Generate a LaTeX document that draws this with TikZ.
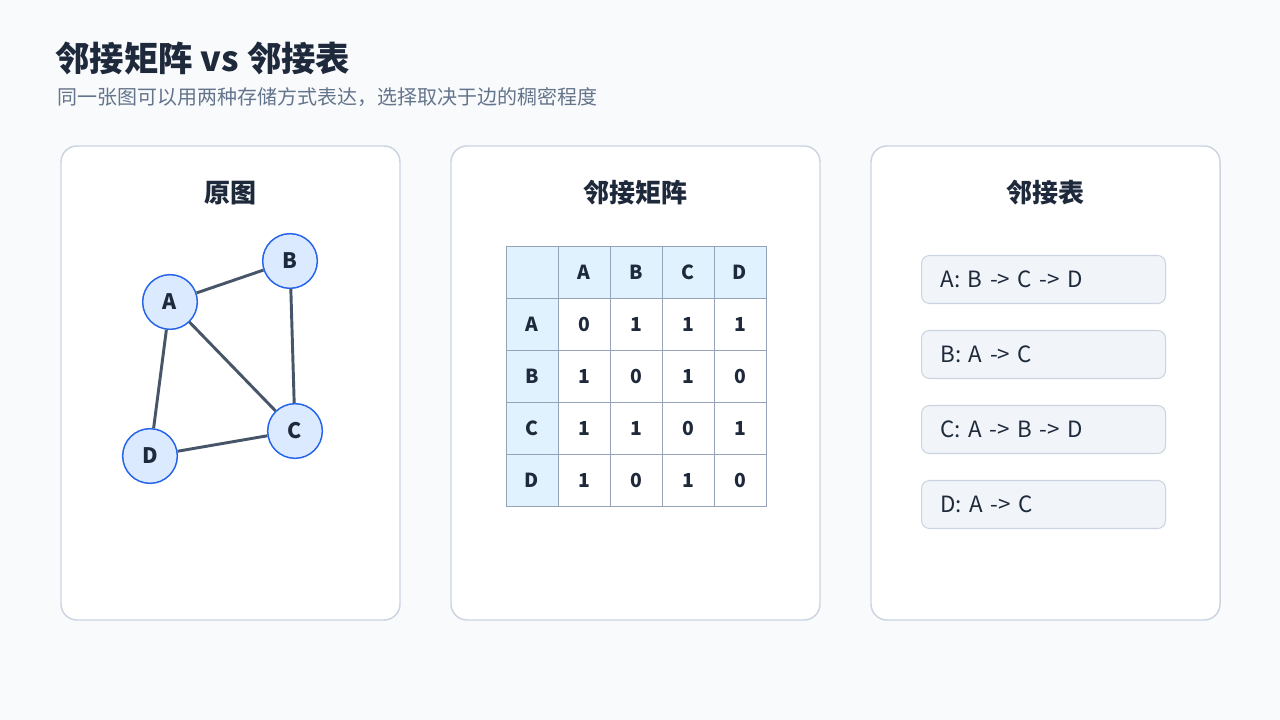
\documentclass[tikz,border=0pt]{standalone}
\usepackage{fontspec}
\setmainfont{Noto Sans CJK SC}
\usepackage{xcolor}
\usepackage{tikz}
\usetikzlibrary{positioning}
\definecolor{pagebg}{RGB}{248, 250, 252}
\definecolor{darkslate}{RGB}{30, 41, 59}
\definecolor{mutedgray}{RGB}{100, 116, 139}
\definecolor{panelline}{RGB}{203, 213, 225}
\definecolor{edgegray}{RGB}{71, 85, 105}
\definecolor{nodeblue}{RGB}{37, 99, 235}
\definecolor{nodefill}{RGB}{219, 234, 254}
\definecolor{headfill}{RGB}{224, 242, 254}
\definecolor{gridline}{RGB}{148, 163, 184}
\definecolor{listfill}{RGB}{241, 245, 249}

\begin{document}
\begin{tikzpicture}[
    x=0.75pt, y=-0.75pt,
    panel/.style={draw=panelline, fill=white, line width=1.1pt, rounded corners=12pt},
    paneltitle/.style={font=\fontsize{19.5}{22}\selectfont\bfseries, text=darkslate},
    vertex/.style={circle, draw=nodeblue, fill=nodefill, line width=1.1pt, minimum size=41pt, inner sep=0pt, font=\fontsize{16}{18}\selectfont\bfseries, text=darkslate},
    edge/.style={draw=edgegray, line width=2.2pt},
    cell/.style={rectangle, draw=gridline, line width=0.6pt, minimum size=39pt, inner sep=0pt, font=\fontsize{14.5}{16}\selectfont\bfseries, text=darkslate},
    headcell/.style={cell, fill=headfill},
    listbox/.style={rectangle, draw=panelline, fill=listfill, line width=0.8pt, rounded corners=6pt, anchor=west, text width=154.5pt, inner xsep=14.25pt, minimum height=36pt, align=left, font=\fontsize{16.8}{18}\selectfont, text=darkslate}
]
    % Background
    \fill[pagebg] (0,0) rectangle (1280,720);
    \useasboundingbox (0,0) rectangle (1280,720);

    % Heading
    \node[anchor=base west, inner sep=0pt, font=\fontsize{25.8}{30}\selectfont\bfseries, text=darkslate] (title) at (55,72) {邻接矩阵 vs 邻接表};
    \node[anchor=base west, inner sep=0pt, font=\fontsize{15}{17}\selectfont, text=mutedgray] (subtitle) at (57,105) {同一张图可以用两种存储方式表达，选择取决于边的稠密程度};

    % Panels
    \draw[panel] (61,146) rectangle (400,620);
    \draw[panel] (451,146) rectangle (820,620);
    \draw[panel] (871,146) rectangle (1220,620);
    \node[paneltitle] (graphtitle) at (230,193) {原图};
    \node[paneltitle] (matrixtitle) at (635,193) {邻接矩阵};
    \node[paneltitle] (listtitle) at (1045,193) {邻接表};

    % Graph
    \node[vertex] (va) at (170,302) {A};
    \node[vertex] (vb) at (290,261) {B};
    \node[vertex] (vc) at (295,431) {C};
    \node[vertex] (vd) at (150,456) {D};
    \draw[edge] (va) -- (vb);
    \draw[edge] (va) -- (vc);
    \draw[edge] (va) -- (vd);
    \draw[edge] (vb) -- (vc);
    \draw[edge] (vc) -- (vd);

    % Matrix
    \node[headcell] (m00) at (532,272) {};
    \foreach \lbl [count=\j] in {A,B,C,D} {
        \node[headcell] (m0\j) at (532+52*\j,272) {\lbl};
        \node[headcell] (m\j0) at (532,272+52*\j) {\lbl};
    }
    \foreach \row [count=\i] in {{0,1,1,1},{1,0,1,0},{1,1,0,1},{1,0,1,0}} {
        \foreach \val [count=\j] in \row {
            \node[cell] (m\i\j) at (532+52*\j,272+52*\i) {\val};
        }
    }

    % Lists
    \node[listbox] (lista) at (921,279.5) {A: B -> C -> D};
    \node[listbox] (listb) at (921,354.5) {B: A -> C};
    \node[listbox] (listc) at (921,429.5) {C: A -> B -> D};
    \node[listbox] (listd) at (921,504.5) {D: A -> C};
\end{tikzpicture}
\end{document}
